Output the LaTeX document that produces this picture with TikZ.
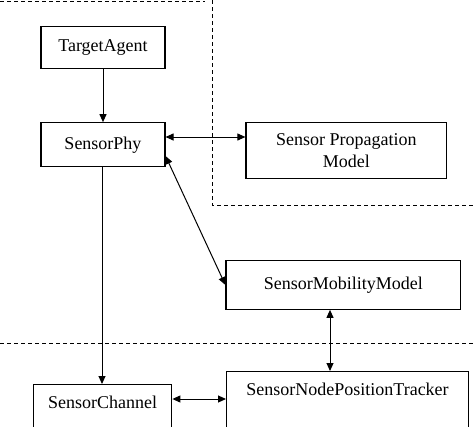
\documentclass[tikz,border=0pt]{standalone}
\usepackage{fontspec}
\setmainfont{Liberation Serif}
\usetikzlibrary{arrows.meta,calc}
\begin{document}
\begin{tikzpicture}[x=1pt,y=-1pt,
 box/.style={draw,line width=1.1pt,inner sep=0pt,align=center,font=\fontsize{18}{22}\selectfont},
 opentop/.style={box,anchor=north west,text height=24pt,text depth=60pt},
 tip/.style={Triangle[length=8pt,width=7pt]},
 conn/.style={line width=1pt,-{Triangle[length=8pt,width=7pt]}},
 biconn/.style={line width=1pt,{Triangle[length=8pt,width=7pt]}-{Triangle[length=8pt,width=7pt]}},
 region/.style={line width=0.9pt,dash pattern=on 4pt off 3pt}]
\useasboundingbox (0,0) rectangle (474,426);
\clip (0,0) rectangle (474,426);
% dashed regions
\draw[region] (0,1) -- (205,1);
\draw[region] (212,0) -- (212,205) -- (474,205);
\draw[region] (0,343) -- (474,343);
% boxes
\node[box,minimum width=124pt,minimum height=41.6pt] (ta) at (103,47.5) {TargetAgent};
\node[box,minimum width=124pt,minimum height=44pt] (phy) at (103,144.7) {SensorPhy};
\node[box,minimum width=200.7pt,minimum height=55.6pt] (spm) at (346.3,150.5) {Sensor Propagation\\Model};
\node[box,minimum width=234.7pt,minimum height=48.6pt] (smm) at (343.3,285) {SensorMobilityModel};
\node[opentop,text width=138.6pt] (ch) at (32.7,384) {SensorChannel};
\node[opentop,text width=242pt] (snpt) at (226,371) {SensorNodePositionTracker};
% connectors
\draw[conn] (ta.south) -- (phy.north);
\draw[biconn] ([yshift=7.7pt]phy.east) -- ([yshift=7.7pt]phy.east -| spm.west);
\draw[conn] ([xshift=-1pt]phy.south) -- ([xshift=-1pt]phy.south |- ch.north);
\draw[biconn] ([yshift=-11.3pt]phy.east) -- (smm.west);
\draw[biconn] ([xshift=-13.3pt]smm.south) -- ([xshift=-13.3pt]smm.south |- snpt.north);
\draw[biconn] ([yshift=-15pt]ch.north east) -- ([yshift=-15pt]ch.north east -| snpt.west);
\end{tikzpicture}
\end{document}
